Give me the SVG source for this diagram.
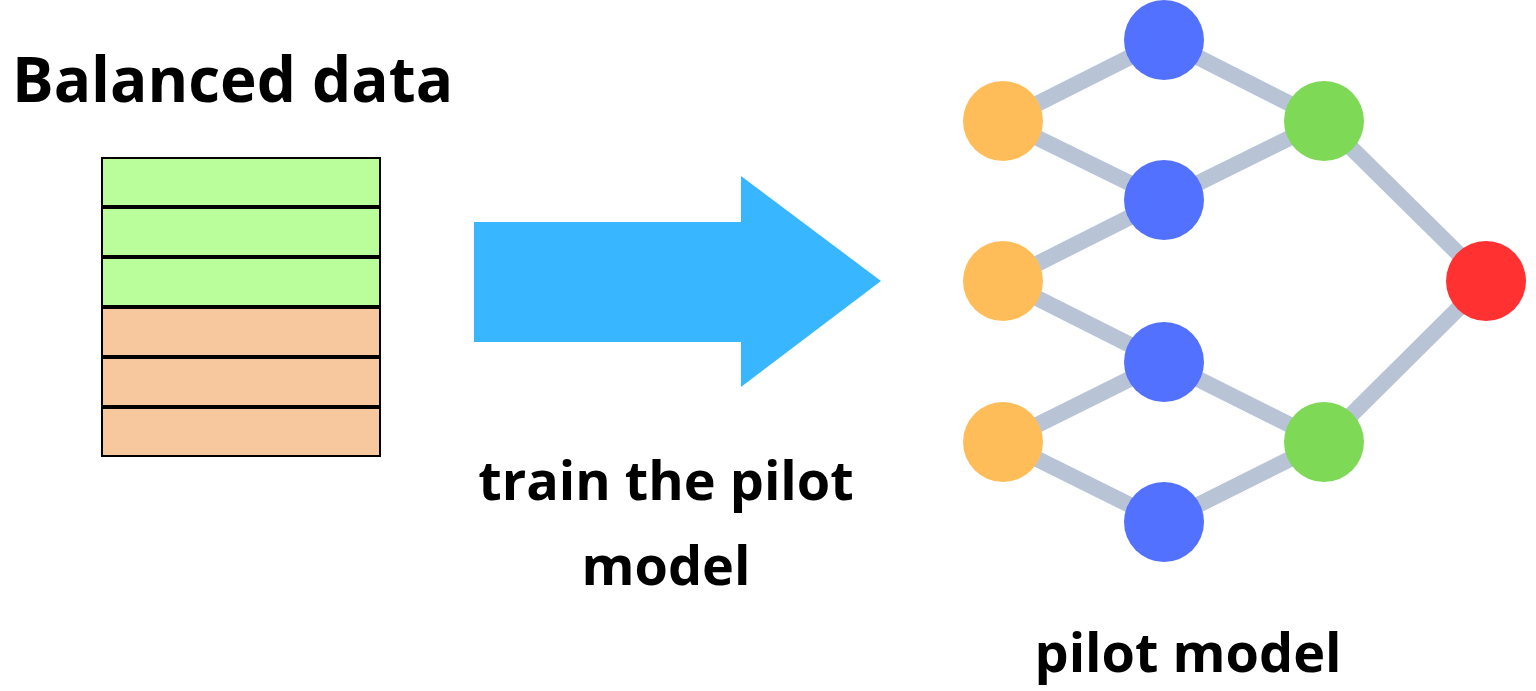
<svg xmlns="http://www.w3.org/2000/svg" width="1536" height="691" viewBox="0 0 1536 691">
<style>
.t{font-family:"Open Sans","Liberation Sans",sans-serif;font-weight:700;fill:#000}
.g{fill:#b9fe9a;stroke:#000;stroke-width:2}
.o{fill:#f7c89d;stroke:#000;stroke-width:2}
.e{stroke:#b8c4d6;stroke-width:16}
</style>
<rect width="1536" height="691" fill="#fff"/>
<g id="title"><text class="t" x="12" y="102" font-size="62">Balanced data</text></g>
<g id="data">
<rect class="g" x="102" y="158" width="278" height="48"/>
<rect class="g" x="102" y="208" width="278" height="48"/>
<rect class="g" x="102" y="258" width="278" height="48"/>
<rect class="o" x="102" y="308" width="278" height="48"/>
<rect class="o" x="102" y="358" width="278" height="48"/>
<rect class="o" x="102" y="408" width="278" height="48"/>
</g>
<g id="arrow"><polygon points="474,222 741,222 741,176 881,281 741,387 741,342 474,342" fill="#38b6ff"/></g>
<g id="arrowlabel"><text class="t" x="666" y="500" font-size="54" text-anchor="middle">train the pilot</text><text class="t" x="666" y="585" font-size="54" text-anchor="middle">model</text></g>
<g id="connectors">
<line class="e" x1="1003" y1="121" x2="1164" y2="40"/>
<line class="e" x1="1003" y1="121" x2="1164" y2="200"/>
<line class="e" x1="1003" y1="281" x2="1164" y2="200"/>
<line class="e" x1="1003" y1="281" x2="1164" y2="362"/>
<line class="e" x1="1003" y1="442" x2="1164" y2="362"/>
<line class="e" x1="1003" y1="442" x2="1164" y2="522"/>
<line class="e" x1="1164" y1="40" x2="1324" y2="121"/>
<line class="e" x1="1164" y1="200" x2="1324" y2="121"/>
<line class="e" x1="1164" y1="362" x2="1324" y2="442"/>
<line class="e" x1="1164" y1="522" x2="1324" y2="442"/>
<line class="e" x1="1324" y1="121" x2="1486" y2="281"/>
<line class="e" x1="1324" y1="442" x2="1486" y2="281"/>
</g>
<g id="n1"><circle cx="1003" cy="121" r="40" fill="#ffbd59"/></g>
<g id="n2"><circle cx="1003" cy="281" r="40" fill="#ffbd59"/></g>
<g id="n3"><circle cx="1003" cy="442" r="40" fill="#ffbd59"/></g>
<g id="n4"><circle cx="1164" cy="40" r="40" fill="#5271ff"/></g>
<g id="n5"><circle cx="1164" cy="200" r="40" fill="#5271ff"/></g>
<g id="n6"><circle cx="1164" cy="362" r="40" fill="#5271ff"/></g>
<g id="n7"><circle cx="1164" cy="522" r="40" fill="#5271ff"/></g>
<g id="n8"><circle cx="1324" cy="121" r="40" fill="#7ed957"/></g>
<g id="n9"><circle cx="1324" cy="442" r="40" fill="#7ed957"/></g>
<g id="n10"><circle cx="1486" cy="281" r="40" fill="#ff3131"/></g>
<g id="modellabel"><text class="t" x="1188" y="672" font-size="54" text-anchor="middle">pilot model</text></g>
</svg>
